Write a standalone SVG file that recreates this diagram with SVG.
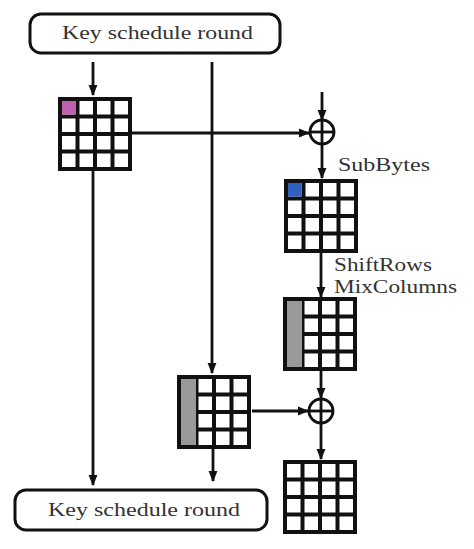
<svg xmlns="http://www.w3.org/2000/svg" xmlns:xlink="http://www.w3.org/1999/xlink" width="474" height="549" viewBox="0 0 474 549">
<style>
.box{fill:#fff;stroke:#111;stroke-width:3}
.lbl{font-family:"Liberation Serif",serif;font-size:19px;fill:#333}
.ln{stroke:#111;stroke-width:2.8;fill:none}
.xor{fill:#fff;stroke:#111;stroke-width:2.8}
.cell{fill:#fff}
</style>
<defs>
<marker id="ah" viewBox="0 0 10 10" refX="9" refY="5" markerWidth="4" markerHeight="4" orient="auto" markerUnits="strokeWidth">
<path d="M0,1 L10,5 L0,9 Z" fill="#111"/>
</marker>
<g id="grid">
<rect width="74" height="74" fill="#111"/>
<rect class="cell" x="4" y="4" width="13.5" height="13.5"/><rect class="cell" x="21.5" y="4" width="13.5" height="13.5"/><rect class="cell" x="39" y="4" width="13.5" height="13.5"/><rect class="cell" x="56.5" y="4" width="13.5" height="13.5"/>
<rect class="cell" x="4" y="21.5" width="13.5" height="13.5"/><rect class="cell" x="21.5" y="21.5" width="13.5" height="13.5"/><rect class="cell" x="39" y="21.5" width="13.5" height="13.5"/><rect class="cell" x="56.5" y="21.5" width="13.5" height="13.5"/>
<rect class="cell" x="4" y="39" width="13.5" height="13.5"/><rect class="cell" x="21.5" y="39" width="13.5" height="13.5"/><rect class="cell" x="39" y="39" width="13.5" height="13.5"/><rect class="cell" x="56.5" y="39" width="13.5" height="13.5"/>
<rect class="cell" x="4" y="56.5" width="13.5" height="13.5"/><rect class="cell" x="21.5" y="56.5" width="13.5" height="13.5"/><rect class="cell" x="39" y="56.5" width="13.5" height="13.5"/><rect class="cell" x="56.5" y="56.5" width="13.5" height="13.5"/>
</g>
</defs>
<rect width="474" height="549" fill="#fff"/>

<g id="connectors">
<line class="ln" x1="93" y1="62" x2="93" y2="95" marker-end="url(#ah)"/>
<line class="ln" x1="212" y1="62" x2="212" y2="373" marker-end="url(#ah)"/>
<line class="ln" x1="132" y1="133" x2="309" y2="133" marker-end="url(#ah)"/>
<line class="ln" x1="322" y1="92" x2="322" y2="120" marker-end="url(#ah)"/>
<line class="ln" x1="322" y1="145" x2="322" y2="178" marker-end="url(#ah)"/>
<line class="ln" x1="321" y1="253" x2="321" y2="297" marker-end="url(#ah)"/>
<line class="ln" x1="321" y1="370" x2="321" y2="398" marker-end="url(#ah)"/>
<line class="ln" x1="252" y1="411" x2="308" y2="411" marker-end="url(#ah)"/>
<line class="ln" x1="321" y1="424" x2="321" y2="459" marker-end="url(#ah)"/>
<line class="ln" x1="93" y1="170" x2="93" y2="485" marker-end="url(#ah)"/>
<line class="ln" x1="213" y1="448" x2="213" y2="481" marker-end="url(#ah)"/>
</g>

<g id="top-box">
<rect class="box" x="30" y="14" width="250" height="39" rx="11"/>
<text class="lbl" x="62" y="39" textLength="191" lengthAdjust="spacingAndGlyphs">Key schedule round</text>
</g>

<g id="key-grid">
<use xlink:href="#grid" x="58" y="97"/>
<rect x="62" y="101" width="13.5" height="13.5" fill="#c060b0"/>
</g>

<g id="xor1">
<circle class="xor" cx="322" cy="132" r="12"/>
<line class="ln" x1="310" y1="132" x2="334" y2="132"/>
<line class="ln" x1="322" y1="120" x2="322" y2="144"/>
</g>

<g id="subbytes-label">
<text class="lbl" x="338" y="171" textLength="92" lengthAdjust="spacingAndGlyphs">SubBytes</text>
</g>

<g id="state-grid">
<use xlink:href="#grid" x="284" y="179"/>
<rect x="288" y="183" width="13.5" height="13.5" fill="#3060c0"/>
</g>

<g id="shift-mix-label">
<text class="lbl" x="334" y="271" textLength="98" lengthAdjust="spacingAndGlyphs">ShiftRows</text>
<text class="lbl" x="334" y="293" textLength="123" lengthAdjust="spacingAndGlyphs">MixColumns</text>
</g>

<g id="mixed-grid">
<use xlink:href="#grid" x="283" y="297"/>
<rect x="287" y="301" width="15" height="66" fill="#999"/>
</g>

<g id="round-key-grid">
<use xlink:href="#grid" x="177" y="375"/>
<rect x="181" y="379" width="15" height="66" fill="#999"/>
</g>

<g id="xor2">
<circle class="xor" cx="321" cy="411" r="12"/>
<line class="ln" x1="309" y1="411" x2="333" y2="411"/>
<line class="ln" x1="321" y1="399" x2="321" y2="423"/>
</g>

<g id="output-grid">
<use xlink:href="#grid" x="283" y="460"/>
</g>

<g id="bottom-box">
<rect class="box" x="15" y="490" width="252" height="40" rx="11"/>
<text class="lbl" x="48" y="516" textLength="192" lengthAdjust="spacingAndGlyphs">Key schedule round</text>
</g>
</svg>
